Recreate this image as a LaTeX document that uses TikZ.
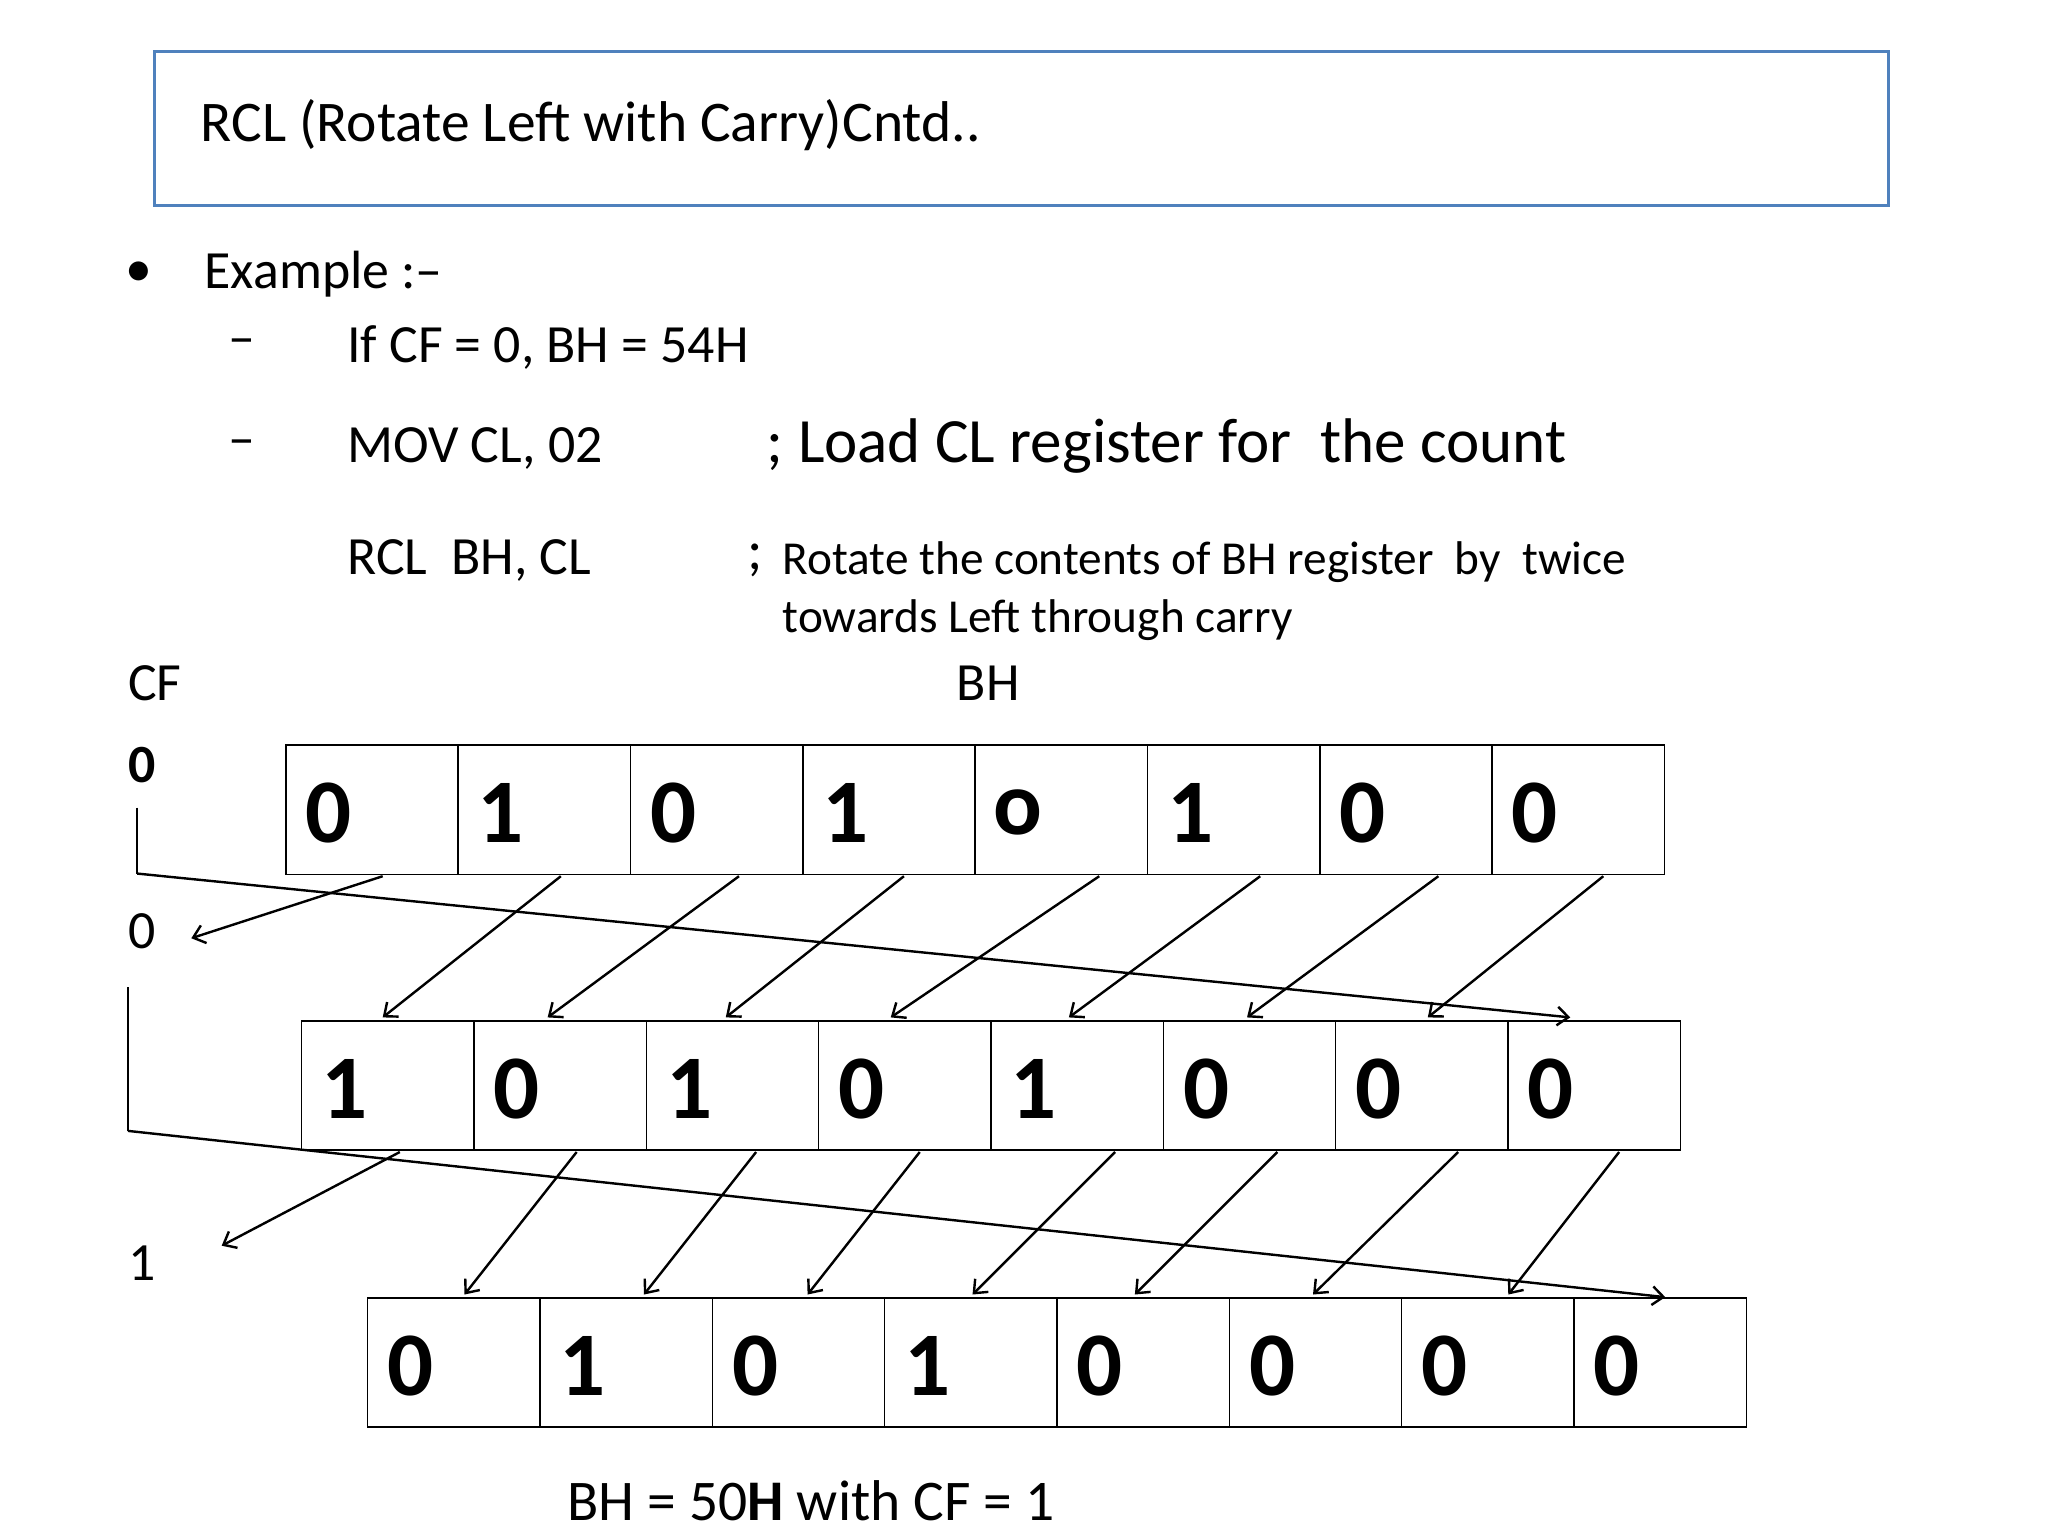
\documentclass[tikz,border=0pt]{standalone}
\usepackage{fontspec}
\setmainfont{Carlito}
\begin{document}
\begin{tikzpicture}[x=0.05cm,y=-0.05cm,
  txt/.style={anchor=west,inner sep=0pt},
  cell/.style={draw,line width=1.6pt,minimum width=130.6*0.05cm,minimum height=98*0.05cm,inner sep=0pt,anchor=north west},
  dig/.style={font=\fontsize{98}{100}\selectfont\bfseries},
  ar/.style={line width=2.6pt,->,>={Straight Barb[length=12pt,width=20pt]}},
  ln/.style={line width=2.6pt}]
\usetikzlibrary{arrows.meta}
\useasboundingbox (0,0) rectangle (1552,1164);
\draw[line width=3.5pt,color={rgb,255:red,79;green,129;blue,189}] (117,39) rectangle (1431,156);
\node[txt,font=\fontsize{62}{70}\selectfont] (title) at (152,95) {RCL (Rotate Left with Carry)Cntd..};
\node[txt,font=\fontsize{58}{60}\selectfont] (b) at (95,208) {•};
\node[txt,font=\fontsize{58}{60}\selectfont] (ex) at (155,208) {Example :--};
\node[txt,font=\fontsize{58}{60}\selectfont] (d1) at (173,263) {–};
\node[txt,font=\fontsize{58}{60}\selectfont] (l1) at (263,263) {If CF = 0, BH = 54H};
\node[txt,font=\fontsize{58}{60}\selectfont] (d2) at (173,340) {–};
\node[txt,font=\fontsize{58}{60}\selectfont] (l2) at (263,340) {MOV CL, 02};
\node[txt,font=\fontsize{68}{70}\selectfont] (c2) at (581,338) {; Load CL register for\ \ the count};
\node[txt,font=\fontsize{58}{60}\selectfont] (l3) at (263,425) {RCL\ \ BH, CL};
\node[txt,font=\fontsize{62}{60}\selectfont] (sc) at (566,425) {;};
\node[txt,font=\fontsize{51}{60}\selectfont] (c3) at (593,426) {Rotate the contents of BH register\ \ by\ \ twice};
\node[txt,font=\fontsize{51}{60}\selectfont] (c4) at (593,470) {towards Left through carry};
\node[txt,font=\fontsize{58}{60}\selectfont] (cf) at (97,518) {CF};
\node[txt,font=\fontsize{58}{60}\selectfont] (bh) at (725,518) {BH};
\node[font=\fontsize{58}{60}\selectfont\bfseries] (cf0) at (108,580) {0};
\node[font=\fontsize{58}{60}\selectfont] (o1) at (108,706) {0};
\node[font=\fontsize{58}{60}\selectfont] (o2) at (108,957) {1};
\foreach \r/\x/\y/\bits in {1/216/564/{0,1,0,1,o,1,0,0},2/228/773/{1,0,1,0,1,0,0,0},3/278/983/{0,1,0,1,0,0,0,0}}{
  \foreach \b [count=\i] in \bits {
    \node[cell] (r\r c\i) at ({\x+(\i-1)*130.6},\y) {};
    \ifx o\b
      \node[font=\fontsize{98}{100}\selectfont] at ({\x+(\i-1)*130.6+33},{\y+52}) {0};
    \else
      \node[dig] at ({\x+(\i-1)*130.6+33},{\y+52}) {\b};
    \fi
  }
}
\node[txt,font=\fontsize{62}{60}\selectfont] (res) at (430,1137) {BH = 50\textbf{H} with CF = 1};
% first rotation
\draw[ln] (104,612) -- (104,662);
\draw[ar] (104,662) -- (1190,771);
\draw[ar] (290,664) -- (145,711);
\foreach \a/\b in {425/290,560/415,685/550,833/675,955/810,1090/945,1215/1082}
  \draw[ar] (\a,664) -- (\b,771);
% second rotation
\draw[ln] (97,748) -- (97,857);
\draw[ar] (97,857) -- (1262,983);
\draw[ar] (303,873) -- (168,944);
\foreach \a/\b in {437/352,573/488,697/612,845/737,968/860,1105/995,1227/1143}
  \draw[ar] (\a,873) -- (\b,981);
\end{tikzpicture}
\end{document}
